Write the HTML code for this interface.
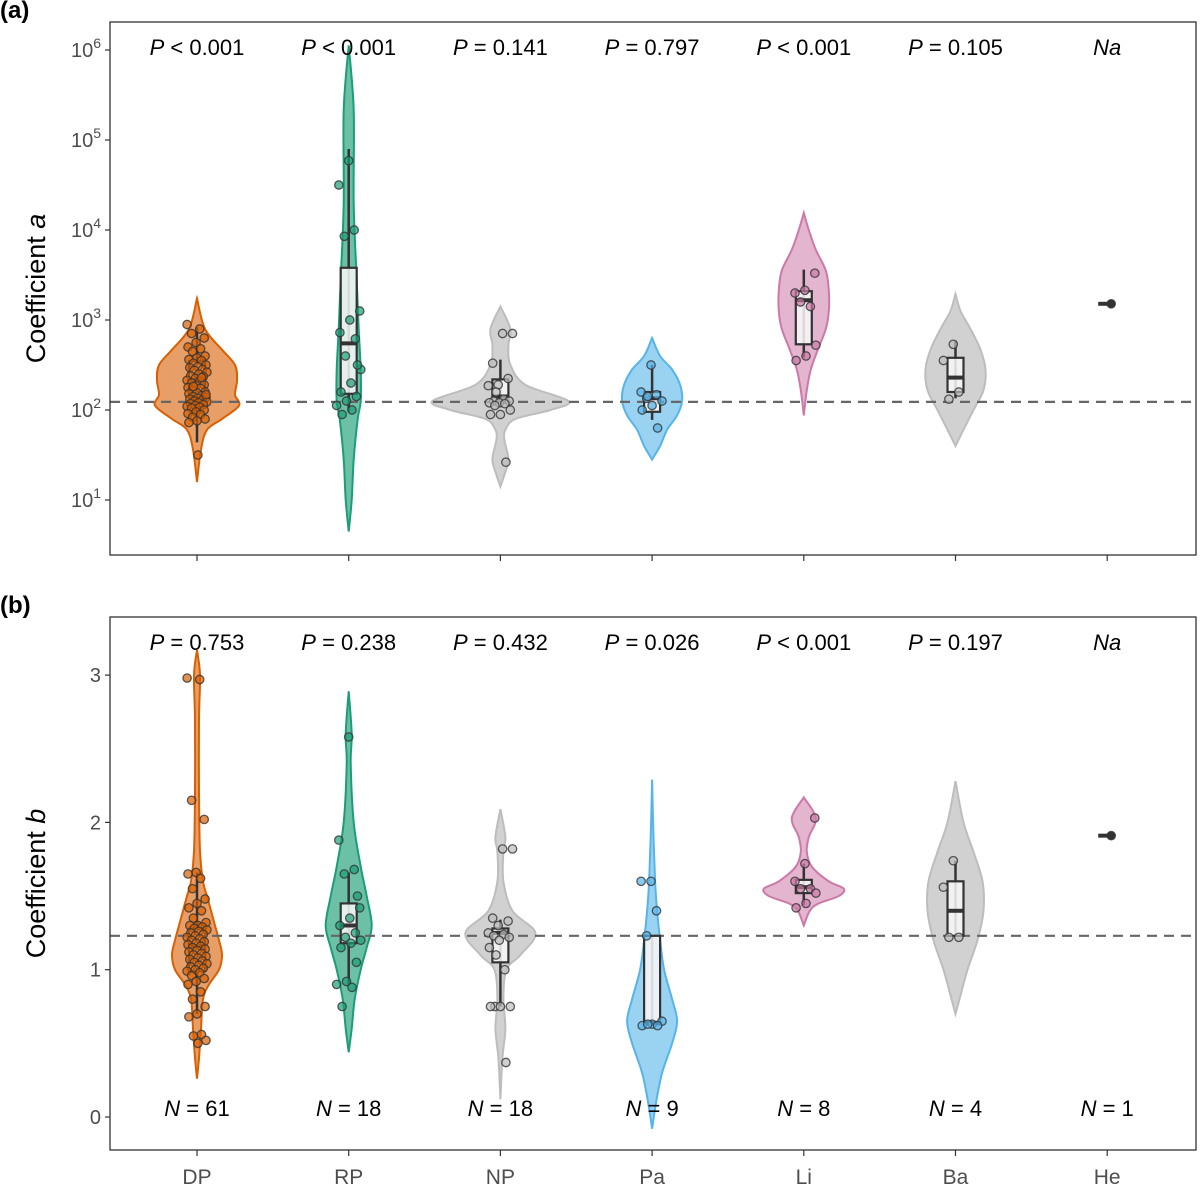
<!DOCTYPE html>
<html><head><meta charset="utf-8">
<style>
body{margin:0;background:#fff;}
svg{display:block;font-family:"Liberation Sans",sans-serif;}
</style></head>
<body>
<svg id="chart" width="1200" height="1188" viewBox="0 0 1200 1188" xmlns="http://www.w3.org/2000/svg"></svg>
<script>
const categories=["DP","RP","NP","Pa","Li","Ba","He"];
const colors=["#d95f02","#1b9e77","#bdbdbd","#56b4e9","#cc79a7","#bdbdbd","#333333"];
const pLabelsA=["< 0.001","< 0.001","= 0.141","= 0.797","< 0.001","= 0.105",null];
const pLabelsB=["= 0.753","= 0.238","= 0.432","= 0.026","< 0.001","= 0.197",null];
const nCounts=[61,18,18,9,8,4,1];
const yTicksA=[1,2,3,4,5,6];
const yTicksB=[0,1,2,3];
const refA=2.09, refB=1.23;
// violin profiles: [value, half-width density]
const violinA=[
 [[3.24,0],[2.9,8],[2.67,25],[2.5,38],[2.33,40],[2.17,38],[2.05,42],[1.9,25],[1.78,10],[1.56,4],[1.2,0]],
 [[6.05,0],[5.33,5],[4.3,5],[3.45,8],[2.9,10],[2.45,12],[2.1,12],[1.9,9],[1.45,5],[1.0,3],[0.65,0]],
 [[3.15,0],[2.9,10],[2.72,8],[2.5,10],[2.28,25],[2.1,68],[2.0,50],[1.9,15],[1.78,5],[1.67,4],[1.45,8],[1.28,4],[1.15,0]],
 [[2.8,0],[2.6,8],[2.45,20],[2.28,28],[2.1,30],[1.94,25],[1.78,15],[1.6,8],[1.45,0]],
 [[4.19,0],[4.0,5],[3.78,12],[3.55,22],[3.33,25],[3.1,25],[2.9,22],[2.67,14],[2.45,7],[2.22,3],[1.94,0]],
 [[3.29,0],[3.1,5],[2.9,15],[2.67,25],[2.45,30],[2.22,28],[2.0,18],[1.78,8],[1.6,0]],
 null];
const violinB=[
 [[3.17,0],[3.0,3],[2.7,2],[2.2,2],[1.8,3],[1.6,6],[1.5,10],[1.4,14],[1.3,18],[1.2,22],[1.1,25],[1.0,22],[0.9,12],[0.8,6],[0.6,4],[0.4,2],[0.26,0]],
 [[2.89,0],[2.6,3],[2.4,2],[2.0,5],[1.7,12],[1.5,18],[1.3,23],[1.15,18],[1.0,12],[0.8,6],[0.6,3],[0.44,0]],
 [[2.09,0],[1.9,5],[1.8,3],[1.6,3],[1.4,12],[1.25,35],[1.1,20],[1.0,6],[0.8,3],[0.6,5],[0.4,2],[0.12,0]],
 [[2.29,0],[2.0,1],[1.6,3],[1.4,5],[1.2,8],[1.0,12],[0.8,20],[0.65,25],[0.5,20],[0.3,10],[0.1,4],[-0.08,0]],
 [[2.17,0],[2.03,12],[1.9,5],[1.8,3],[1.7,8],[1.6,25],[1.55,40],[1.5,35],[1.45,15],[1.4,6],[1.3,0]],
 [[2.28,0],[2.0,8],[1.8,18],[1.6,27],[1.4,28],[1.2,22],[1.0,12],[0.8,4],[0.7,0]],
 null];
// box stats: [lowWhisker, q1, median, q3, highWhisker]
const boxA=[[1.64,2.13,2.34,2.54,2.92],[1.98,2.18,2.74,3.58,4.9],[2.14,2.14,2.15,2.34,2.56],[1.89,1.98,2.13,2.2,2.5],[2.58,2.73,3.22,3.32,3.56],[2.13,2.2,2.36,2.58,2.77],[3.18,3.18,3.18,3.18,3.18]];
const boxB=[[0.7,0.99,1.16,1.28,1.66],[0.9,1.18,1.3,1.45,1.66],[0.75,1.05,1.25,1.28,1.34],[0.63,0.63,0.64,1.23,1.23],[1.44,1.52,1.56,1.61,1.72],[1.23,1.23,1.4,1.6,1.74],[1.91,1.91,1.91,1.91,1.91]];
// points (log10 a)
const ptsA=[
 [2.95,2.9,2.85,2.8,2.75,2.7,2.68,2.65,2.6,2.58,2.56,2.55,2.52,2.5,2.48,2.47,2.45,2.44,2.42,2.4,2.38,2.37,2.35,2.33,2.32,2.3,2.28,2.27,2.25,2.24,2.22,2.2,2.19,2.18,2.16,2.15,2.14,2.13,2.12,2.11,2.1,2.09,2.08,2.07,2.06,2.05,2.04,2.03,2.02,2.0,1.98,1.96,1.95,1.92,1.9,1.88,1.86,2.36,2.26,2.17,1.5],
 [4.77,4.5,4.0,3.93,3.1,3.0,2.86,2.79,2.6,2.45,2.3,2.2,2.15,2.1,2.05,2.0,1.95,2.5],
 [2.85,2.85,2.52,2.35,2.28,2.27,2.12,2.1,2.1,2.08,2.08,2.07,2.05,2.0,1.95,1.95,1.42,2.2],
 [2.5,2.2,2.17,2.13,2.1,2.05,2.0,1.8,2.15],
 [3.52,3.33,3.3,3.15,3.2,2.72,2.6,2.55],
 [2.73,2.55,2.2,2.12],
 [3.18]];
const ptsB=[
 [2.98,2.97,2.15,2.02,1.66,1.65,1.62,1.55,1.48,1.45,1.42,1.4,1.35,1.32,1.3,1.3,1.29,1.28,1.27,1.26,1.25,1.24,1.23,1.22,1.21,1.2,1.19,1.18,1.17,1.16,1.15,1.14,1.13,1.12,1.11,1.1,1.09,1.08,1.07,1.06,1.05,1.04,1.03,1.02,1.01,1.0,0.99,0.98,0.96,0.94,0.92,0.9,0.85,0.8,0.75,0.7,0.68,0.56,0.55,0.52,0.5],
 [2.58,1.88,1.68,1.65,1.42,1.35,1.3,1.25,1.22,1.2,1.18,1.15,1.05,0.92,0.9,0.88,0.75,1.5],
 [1.82,1.82,1.35,1.33,1.3,1.25,1.24,1.23,1.22,1.2,1.15,1.0,0.75,0.75,0.75,0.75,0.37,1.1],
 [1.6,1.6,1.4,1.23,0.65,0.63,0.62,0.62,0.63],
 [2.03,1.72,1.6,1.55,1.55,1.52,1.45,1.42],
 [1.74,1.56,1.22,1.22],
 [1.91]];

const svg=document.getElementById('chart');
const NS="http://www.w3.org/2000/svg";
function mk(tag,attrs,parent){const e=document.createElementNS(NS,tag);for(const k in attrs)e.setAttribute(k,attrs[k]);(parent||svg).appendChild(e);return e;}
const X0=110,X1=1196;
const xPos=i=>197+i*151.7;
function smooth(pts){
 let d='M'+pts[0][0]+','+pts[0][1];
 for(let i=0;i<pts.length-1;i++){
  const p0=pts[Math.max(0,i-1)],p1=pts[i],p2=pts[i+1],p3=pts[Math.min(pts.length-1,i+2)];
  const c1=[p1[0]+(p2[0]-p0[0])/6,p1[1]+(p2[1]-p0[1])/6];
  const c2=[p2[0]-(p3[0]-p1[0])/6,p2[1]-(p3[1]-p1[1])/6];
  d+='C'+c1[0]+','+c1[1]+' '+c2[0]+','+c2[1]+' '+p2[0]+','+p2[1];
 }
 return d;
}
const panels=[
 {top:22,bot:555,y:v=>410-(v-2)*90,ticks:yTicksA,violins:violinA,boxes:boxA,pts:ptsA,ref:refA,p:pLabelsA,tag:"(a)",title:"a",log:true},
 {top:617,bot:1150,y:v=>1117-v*147.3,ticks:yTicksB,violins:violinB,boxes:boxB,pts:ptsB,ref:refB,p:pLabelsB,tag:"(b)",title:"b",log:false}
];
function fillFor(i){return ["rgba(217,95,2,0.6)","rgba(27,158,119,0.65)","rgba(190,190,190,0.7)","rgba(86,180,233,0.6)","rgba(204,121,167,0.55)","rgba(190,190,190,0.7)",""][i];}
panels.forEach((P,pi)=>{
 const g=mk('g',{});
 
 
 const tag=mk('text',{x:0,y:P.top-4,'font-size':24,'font-weight':'bold',fill:'#000'},g);tag.textContent=P.tag;
 
 P.ticks.forEach(t=>{
  const yy=P.y(t);
  mk('line',{x1:X0-5,x2:X0,y1:yy,y2:yy,stroke:'#333','stroke-width':1.2},g);
  const tx=mk('text',{x:X0-9,y:yy+7,'text-anchor':'end','font-size':20,fill:'#4d4d4d'},g);
  
  if(P.log){tx.textContent='10';const s=mk('tspan',{dy:-9,'font-size':14},tx);s.textContent=String(t);}
  else tx.textContent=String(t);
 });
 const yt=mk('text',{transform:`translate(45,${(P.top+P.bot)/2}) rotate(-90)`,'text-anchor':'middle','font-size':27,fill:'#000'},g);
 
 yt.textContent='Coefficient ';const it=mk('tspan',{'font-style':'italic'},yt);it.textContent=P.title;
 categories.forEach((c,i)=>mk('line',{x1:xPos(i),x2:xPos(i),y1:P.bot,y2:P.bot+6,stroke:'#333','stroke-width':1.2},g));
 categories.forEach((c,i)=>{
  const prof=P.violins[i];const cx=xPos(i);
  if(prof){
   const right=prof.map(p=>[cx+p[1],P.y(p[0])]);
   const left=prof.slice().reverse().map(p=>[cx-p[1],P.y(p[0])]);
   const d=smooth(right)+smooth(left).replace(/^M/,'L')+'Z';
   const v=mk('path',{d:d,fill:fillFor(i),stroke:colors[i],'stroke-width':2},g);
   
  }
 });
 const rl=mk('line',{x1:X0,x2:X1,y1:P.y(P.ref),y2:P.y(P.ref),stroke:'#666','stroke-width':2.2,'stroke-dasharray':'10,7'},g);
 
 categories.forEach((c,i)=>{
  const b=P.boxes[i];const cx=xPos(i);
  const bg=mk('g',{},g);
  
  if(i===6){mk('line',{x1:cx-9,x2:cx+3,y1:P.y(b[2]),y2:P.y(b[2]),stroke:'#333','stroke-width':4},bg);return;}
  mk('line',{x1:cx,x2:cx,y1:P.y(b[0]),y2:P.y(b[4]),stroke:'#333','stroke-width':2.5},bg);
  mk('rect',{x:cx-8,y:P.y(b[3]),width:16,height:Math.max(1,P.y(b[1])-P.y(b[3])),fill:'rgba(248,248,248,0.85)',stroke:'#333','stroke-width':2.2},bg);
  mk('line',{x1:cx-8,x2:cx+8,y1:P.y(b[2]),y2:P.y(b[2]),stroke:'#333','stroke-width':4},bg);
 });
 categories.forEach((c,i)=>{
  const cx=xPos(i);
  P.pts[i].forEach((v,k)=>{
   const jit=((k*37+i*11)%23-11)*(i===6?0:(i===0?0.9:1.1));
   const pt=mk('circle',{cx:cx+jit+(i===6?4:0),cy:P.y(v),r:4.2,fill:i===6?'#333':colors[i],'fill-opacity':i===6?1:0.7,stroke:'#333','stroke-width':1.3,'stroke-opacity':0.8},g);
   
  });
 });
 categories.forEach((c,i)=>{
  const t=mk('text',{x:xPos(i),y:P.top+33,'text-anchor':'middle','font-size':22,fill:'#000'},g);
  
  if(P.p[i]===null){const s=mk('tspan',{'font-style':'italic'},t);s.textContent='Na';}
  else{const s=mk('tspan',{'font-style':'italic'},t);s.textContent='P';const r=mk('tspan',{},t);r.textContent=' '+P.p[i];}
 });
 const fr=mk('rect',{x:X0,y:P.top,width:X1-X0,height:P.bot-P.top,fill:'none',stroke:'#333','stroke-width':1.3},g);
 
});
categories.forEach((c,i)=>{
 const t=mk('text',{x:xPos(i),y:1116,'text-anchor':'middle','font-size':22,fill:'#000'});
 
 const s=mk('tspan',{'font-style':'italic'},t);s.textContent='N';const r=mk('tspan',{},t);r.textContent=' = '+nCounts[i];
 const xl=mk('text',{x:xPos(i),y:1184,'text-anchor':'middle','font-size':21,fill:'#4d4d4d'});
 
 xl.textContent=c;
});
</script>
</body></html>
